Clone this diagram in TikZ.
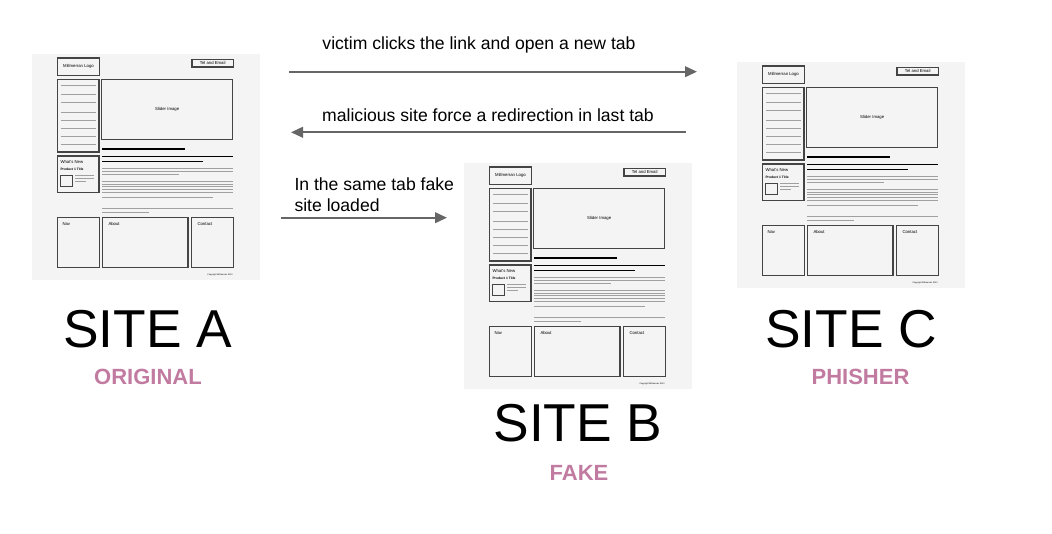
\documentclass[tikz,border=0pt]{standalone}
\usepackage{fontspec}
\setmainfont{Liberation Sans}
\usetikzlibrary{arrows.meta}

\definecolor{mockbg}{RGB}{244,244,244}
\definecolor{mockline}{RGB}{68,68,68}
\definecolor{mockgray}{RGB}{160,160,160}
\definecolor{arrowgray}{RGB}{102,102,102}
\definecolor{tagpink}{RGB}{194,123,160}

\tikzset{every picture/.style={line width=0.75pt}}
\tikzset{
  mockbox/.style={draw=mockline, line width=0.9pt},
  mockrule/.style={draw=mockgray, line width=0.7pt},
  mocktext/.style={inner sep=0pt, font=\fontsize{3.2}{3.6}\selectfont},
  flow/.style={draw=arrowgray, line width=1.5pt, -{Triangle[length=9pt,width=8pt]}},
  flowtext/.style={inner sep=0pt, font=\fontsize{13.2}{15.75}\selectfont},
  sitename/.style={inner sep=0pt, anchor=base, font=\fontsize{40}{48}\selectfont},
  sitetag/.style={inner sep=0pt, anchor=base, text=tagpink, font=\fontsize{16.5}{20}\selectfont\bfseries},
  mockpage/.pic={
    \begin{scope}[yscale=-1]
    %Background
    \fill[mockbg] (0,0) rectangle (228,226);
    %Header boxes
    \draw[mockbox] (25.7,4) rectangle (67.3,21.3);
    \node[mocktext] (-logo) at (46.5,12.7) {Millmerran Logo};
    \draw[mockbox] (160,5.3) rectangle (201.3,13);
    \node[mocktext] (-tel) at (180.7,9.2) {Tel and Email};
    %Menu
    \draw[mockbox] (25.3,25.3) rectangle (67,98);
    \foreach \y in {31.3,40,48.7,58,66.3,74.7,82.7,90.3}
      \draw[mockrule] (28.7,\y) -- (63.7,\y);
    %Slider
    \draw[mockbox] (69.7,25.3) rectangle (200.7,85.7);
    \node[mocktext] (-slider) at (135.2,55.5) {Slider Image};
    %Body text
    \draw[line width=1.5pt] (70,95.3) -- (153,95.3);
    \draw[line width=0.9pt] (70,102.7) -- (201.3,102.7);
    \draw[line width=0.9pt] (70,107.3) -- (171,107.3);
    \foreach \y in {114.3,117,127.3,130.3,132.7,135.3,138,154.3}
      \draw[mockrule] (70,\y) -- (201,\y);
    \draw[mockrule] (70,120.7) -- (147.3,120.7);
    \draw[mockrule] (70,143.3) -- (180.7,143.3);
    \draw[mockrule] (70,158) -- (117.3,158);
    %What's new
    \draw[mockbox] (25.3,102) rectangle (67,138.7);
    \node[mocktext, anchor=west] (-news) at (28,107.7) {What's New};
    \node[mocktext, anchor=west, font=\fontsize{2.5}{3}\selectfont\bfseries] (-product) at (28,115.7) {Product 1 Title};
    \draw[mockbox, line width=0.6pt] (28.3,121.3) rectangle (40.7,132.7);
    \draw[mockrule] (43.3,121.3) -- (62.3,121.3);
    \draw[mockrule] (43.3,124) -- (62.3,124);
    \draw[mockrule] (43.3,127) -- (54,127);
    %Footer boxes
    \draw[mockbox] (25.3,163.3) rectangle (67.3,213.3);
    \draw[mockbox] (70.7,163.3) rectangle (156,213.3);
    \draw[mockbox] (159.7,163.3) rectangle (201.3,213.3);
    \node[mocktext, anchor=west] (-nav) at (30,169.7) {Nav};
    \node[mocktext, anchor=west] (-about) at (76,169.7) {About};
    \node[mocktext, anchor=west] (-contact) at (165,169.7) {Contact};
    \node[mocktext, font=\fontsize{1.6}{2}\selectfont] (-copy) at (188,220.7) {Copyright Millmerran 2013};
    \end{scope}
  }
}

\begin{document}
\begin{tikzpicture}[x=0.75pt,y=0.75pt,yscale=-1,xscale=1]
\useasboundingbox (0,0) rectangle (1052,534);

%Page mockups
\pic (pageA) at (32,54) {mockpage};
\pic (pageB) at (464,163) {mockpage};
\pic (pageC) at (737,62) {mockpage};

% Text Node
\node[sitename] (siteA) at (147.5,347.3) {SITE A};
% Text Node
\node[sitetag] (tagA) at (148,384.3) {ORIGINAL};
% Text Node
\node[sitename] (siteB) at (578,441.7) {SITE B};
% Text Node
\node[sitetag] (tagB) at (579,480) {FAKE};
% Text Node
\node[sitename] (siteC) at (851,347.3) {SITE C};
% Text Node
\node[sitetag] (tagC) at (860.5,384) {PHISHER};

%Straight Lines
\coordinate (clickStart) at (289,71.7);
\coordinate (clickEnd) at (697,71.7);
\draw[flow] (clickStart) -- (clickEnd);
% Text Node
\node[flowtext, anchor=base] (clickText) at (479,50) {victim clicks the link and open a new tab};

%Straight Lines
\coordinate (redirStart) at (686,132.3);
\coordinate (redirEnd) at (291,132.3);
\draw[flow] (redirStart) -- (redirEnd);
% Text Node
\node[flowtext, anchor=base] (redirText) at (488,121.7) {malicious site force a redirection in last tab};

%Straight Lines
\coordinate (loadStart) at (281,217.7);
\coordinate (loadEnd) at (447,217.7);
\draw[flow] (loadStart) -- (loadEnd);
% Text Node
\node[flowtext, anchor=north west, align=left] (loadText) at (294,176.8) {In the same tab fake\\site loaded};

\end{tikzpicture}
\end{document}
